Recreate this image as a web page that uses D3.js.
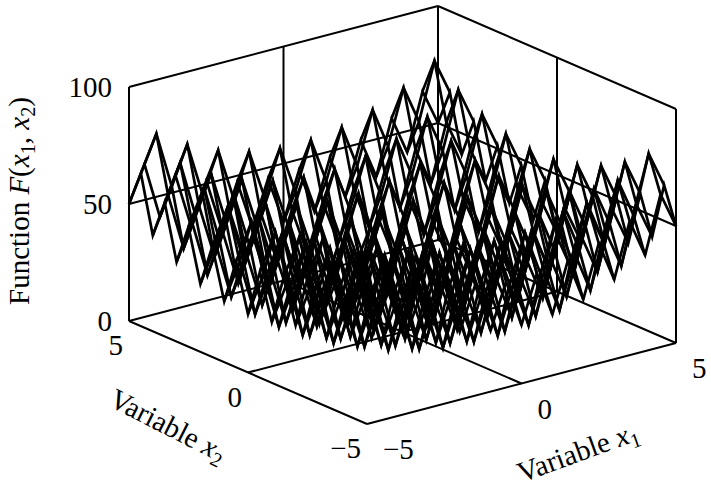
<!DOCTYPE html>
<html lang="en">
<head>
<meta charset="utf-8">
<title>Function F(x1, x2)</title>
<script src="https://cdn.jsdelivr.net/npm/d3@7"></script>
<style>
body { margin: 0; background: #fff; }
text { font-family: "Liberation Serif", "Times New Roman", serif; fill: #000; }
</style>
</head>
<body>
<div id="chart"></div>
<script>
// grid positions of the mesh
var x1Values = [-5, -4.5, -4, -3.5, -3, -2.5, -2, -1.5, -1, -0.5, 0, 0.5, 1, 1.5, 2, 2.5, 3, 3.5, 4, 4.5, 5];
var x2Values = [-5, -4.5, -4, -3.5, -3, -2.5, -2, -1.5, -1, -0.5, 0, 0.5, 1, 1.5, 2, 2.5, 3, 3.5, 4, 4.5, 5];

// surface heights, one row per x2 value, one column per x1 value
var zGrid = [
  [50, 65.25, 41, 57.25, 34, 51.25, 29, 47.25, 26, 45.25, 25, 45.25, 26, 47.25, 29, 51.25, 34, 57.25, 41, 65.25, 50],
  [65.25, 80.5, 56.25, 72.5, 49.25, 66.5, 44.25, 62.5, 41.25, 60.5, 40.25, 60.5, 41.25, 62.5, 44.25, 66.5, 49.25, 72.5, 56.25, 80.5, 65.25],
  [41, 56.25, 32, 48.25, 25, 42.25, 20, 38.25, 17, 36.25, 16, 36.25, 17, 38.25, 20, 42.25, 25, 48.25, 32, 56.25, 41],
  [57.25, 72.5, 48.25, 64.5, 41.25, 58.5, 36.25, 54.5, 33.25, 52.5, 32.25, 52.5, 33.25, 54.5, 36.25, 58.5, 41.25, 64.5, 48.25, 72.5, 57.25],
  [34, 49.25, 25, 41.25, 18, 35.25, 13, 31.25, 10, 29.25, 9, 29.25, 10, 31.25, 13, 35.25, 18, 41.25, 25, 49.25, 34],
  [51.25, 66.5, 42.25, 58.5, 35.25, 52.5, 30.25, 48.5, 27.25, 46.5, 26.25, 46.5, 27.25, 48.5, 30.25, 52.5, 35.25, 58.5, 42.25, 66.5, 51.25],
  [29, 44.25, 20, 36.25, 13, 30.25, 8, 26.25, 5, 24.25, 4, 24.25, 5, 26.25, 8, 30.25, 13, 36.25, 20, 44.25, 29],
  [47.25, 62.5, 38.25, 54.5, 31.25, 48.5, 26.25, 44.5, 23.25, 42.5, 22.25, 42.5, 23.25, 44.5, 26.25, 48.5, 31.25, 54.5, 38.25, 62.5, 47.25],
  [26, 41.25, 17, 33.25, 10, 27.25, 5, 23.25, 2, 21.25, 1, 21.25, 2, 23.25, 5, 27.25, 10, 33.25, 17, 41.25, 26],
  [45.25, 60.5, 36.25, 52.5, 29.25, 46.5, 24.25, 42.5, 21.25, 40.5, 20.25, 40.5, 21.25, 42.5, 24.25, 46.5, 29.25, 52.5, 36.25, 60.5, 45.25],
  [25, 40.25, 16, 32.25, 9, 26.25, 4, 22.25, 1, 20.25, 0, 20.25, 1, 22.25, 4, 26.25, 9, 32.25, 16, 40.25, 25],
  [45.25, 60.5, 36.25, 52.5, 29.25, 46.5, 24.25, 42.5, 21.25, 40.5, 20.25, 40.5, 21.25, 42.5, 24.25, 46.5, 29.25, 52.5, 36.25, 60.5, 45.25],
  [26, 41.25, 17, 33.25, 10, 27.25, 5, 23.25, 2, 21.25, 1, 21.25, 2, 23.25, 5, 27.25, 10, 33.25, 17, 41.25, 26],
  [47.25, 62.5, 38.25, 54.5, 31.25, 48.5, 26.25, 44.5, 23.25, 42.5, 22.25, 42.5, 23.25, 44.5, 26.25, 48.5, 31.25, 54.5, 38.25, 62.5, 47.25],
  [29, 44.25, 20, 36.25, 13, 30.25, 8, 26.25, 5, 24.25, 4, 24.25, 5, 26.25, 8, 30.25, 13, 36.25, 20, 44.25, 29],
  [51.25, 66.5, 42.25, 58.5, 35.25, 52.5, 30.25, 48.5, 27.25, 46.5, 26.25, 46.5, 27.25, 48.5, 30.25, 52.5, 35.25, 58.5, 42.25, 66.5, 51.25],
  [34, 49.25, 25, 41.25, 18, 35.25, 13, 31.25, 10, 29.25, 9, 29.25, 10, 31.25, 13, 35.25, 18, 41.25, 25, 49.25, 34],
  [57.25, 72.5, 48.25, 64.5, 41.25, 58.5, 36.25, 54.5, 33.25, 52.5, 32.25, 52.5, 33.25, 54.5, 36.25, 58.5, 41.25, 64.5, 48.25, 72.5, 57.25],
  [41, 56.25, 32, 48.25, 25, 42.25, 20, 38.25, 17, 36.25, 16, 36.25, 17, 38.25, 20, 42.25, 25, 48.25, 32, 56.25, 41],
  [65.25, 80.5, 56.25, 72.5, 49.25, 66.5, 44.25, 62.5, 41.25, 60.5, 40.25, 60.5, 41.25, 62.5, 44.25, 66.5, 49.25, 72.5, 56.25, 80.5, 65.25],
  [50, 65.25, 41, 57.25, 34, 51.25, 29, 47.25, 26, 45.25, 25, 45.25, 26, 47.25, 29, 51.25, 34, 57.25, 41, 65.25, 50]
];

var x1Ticks = [-5, 0, 5];
var x2Ticks = [-5, 0, 5];
var zTicks = [0, 50, 100];
var zGridLines = [50];

var width = 711, height = 487;

var svg = d3.select("#chart").append("svg")
    .attr("width", width)
    .attr("height", height);

// oblique box projection, front corner is (x1=-5, x2=-5)
var origin = [367, 424];
var ax = [309, -81];   // screen vector along x1 (whole range)
var bx = [-238, -103]; // screen vector along x2 (whole range)
var u = d3.scaleLinear().domain([-5, 5]).range([0, 1]);
var v = d3.scaleLinear().domain([-5, 5]).range([0, 1]);
var w = d3.scaleLinear().domain([0, 100]).range([0, 234]);

function proj(x1, x2, z) {
    var a = u(x1), b = v(x2);
    return [origin[0] + a*ax[0] + b*bx[0], origin[1] + a*ax[1] + b*bx[1] - w(z)];
}

var line = d3.line();

function seg(p, q, sw) {
    svg.append("path")
        .attr("d", line([proj(p[0], p[1], p[2]), proj(q[0], q[1], q[2])]))
        .attr("stroke", "#000")
        .attr("stroke-width", sw || 2)
        .attr("fill", "none");
}

// back walls and floor
seg([-5, 5, 0], [-5, 5, 100]);
seg([5, 5, 0], [5, 5, 100]);
seg([5, -5, 0], [5, -5, 100]);
seg([-5, 5, 100], [5, 5, 100]);
seg([5, 5, 100], [5, -5, 100]);
seg([-5, 5, 0], [5, 5, 0]);
seg([5, 5, 0], [5, -5, 0]);
seg([-5, 5, 0], [-5, -5, 0]);
seg([-5, -5, 0], [5, -5, 0]);

// grid lines at the middle ticks
seg([0, 5, 0], [0, 5, 100]);
seg([5, 0, 0], [5, 0, 100]);
zGridLines.forEach(function(z) {
    seg([-5, 5, z], [5, 5, z]);
    seg([5, 5, z], [5, -5, z]);
});
seg([0, -5, 0], [0, 5, 0]);
seg([-5, 0, 0], [5, 0, 0]);

// wire mesh: one polyline per x2 row and one per x1 column
var meshLines = [];
x2Values.forEach(function(x2, i) {
    meshLines.push(x1Values.map(function(x1, j) { return proj(x1, x2, zGrid[i][j]); }));
});
x1Values.forEach(function(x1, j) {
    meshLines.push(x2Values.map(function(x2, i) { return proj(x1, x2, zGrid[i][j]); }));
});

svg.append("g").selectAll("path")
    .data(meshLines)
    .join("path")
    .attr("d", line)
    .attr("fill", "none")
    .attr("stroke", "#000")
    .attr("stroke-width", 2.7)
    .attr("stroke-linejoin", "miter")
    .attr("stroke-miterlimit", 5);

// tick labels
var fs = 29;
function tickText(t) { return t < 0 ? "\u2212" + Math.abs(t) : String(t); }

zTicks.forEach(function(t) {
    var p = proj(-5, 5, t);
    svg.append("text")
        .attr("x", p[0] - 17).attr("y", p[1])
        .attr("dy", "0.35em")
        .attr("text-anchor", "end")
        .attr("font-size", fs)
        .text(t);
});
x2Ticks.forEach(function(t) {
    var p = proj(-5, t, 0);
    svg.append("text")
        .attr("x", p[0] - 6).attr("y", p[1] + 24)
        .attr("dy", "0.35em")
        .attr("text-anchor", "end")
        .attr("font-size", fs)
        .text(tickText(t));
});
x1Ticks.forEach(function(t) {
    var p = proj(t, -5, 0);
    svg.append("text")
        .attr("x", p[0] + 16).attr("y", p[1] + 25)
        .attr("dy", "0.35em")
        .attr("text-anchor", "start")
        .attr("font-size", fs)
        .text(tickText(t));
});

// axis titles
function subLabel(g, name, sub) {
    g.append("tspan").text("Variable ");
    g.append("tspan").attr("font-style", "italic").text(name);
    g.append("tspan").attr("font-size", fs*0.7).attr("dy", 6).text(sub);
}

var t1 = svg.append("text")
    .attr("font-size", fs)
    .attr("text-anchor", "middle")
    .attr("transform", "translate(581,461) rotate(-20)");
subLabel(t1, "x", "1");

var t2 = svg.append("text")
    .attr("font-size", fs)
    .attr("text-anchor", "middle")
    .attr("transform", "translate(164,434) rotate(27)");
subLabel(t2, "x", "2");

var tz = svg.append("text")
    .attr("font-size", fs)
    .attr("text-anchor", "middle")
    .attr("transform", "translate(29,201) rotate(-90)");
tz.append("tspan").text("Function ");
tz.append("tspan").attr("font-style", "italic").text("F");
tz.append("tspan").text("(");
tz.append("tspan").attr("font-style", "italic").text("x");
tz.append("tspan").attr("font-size", fs*0.7).attr("dy", 6).text("1");
tz.append("tspan").attr("dy", -6).text(", ");
tz.append("tspan").attr("font-style", "italic").text("x");
tz.append("tspan").attr("font-size", fs*0.7).attr("dy", 6).text("2");
tz.append("tspan").attr("dy", -6).text(")");
</script>
</body>
</html>
